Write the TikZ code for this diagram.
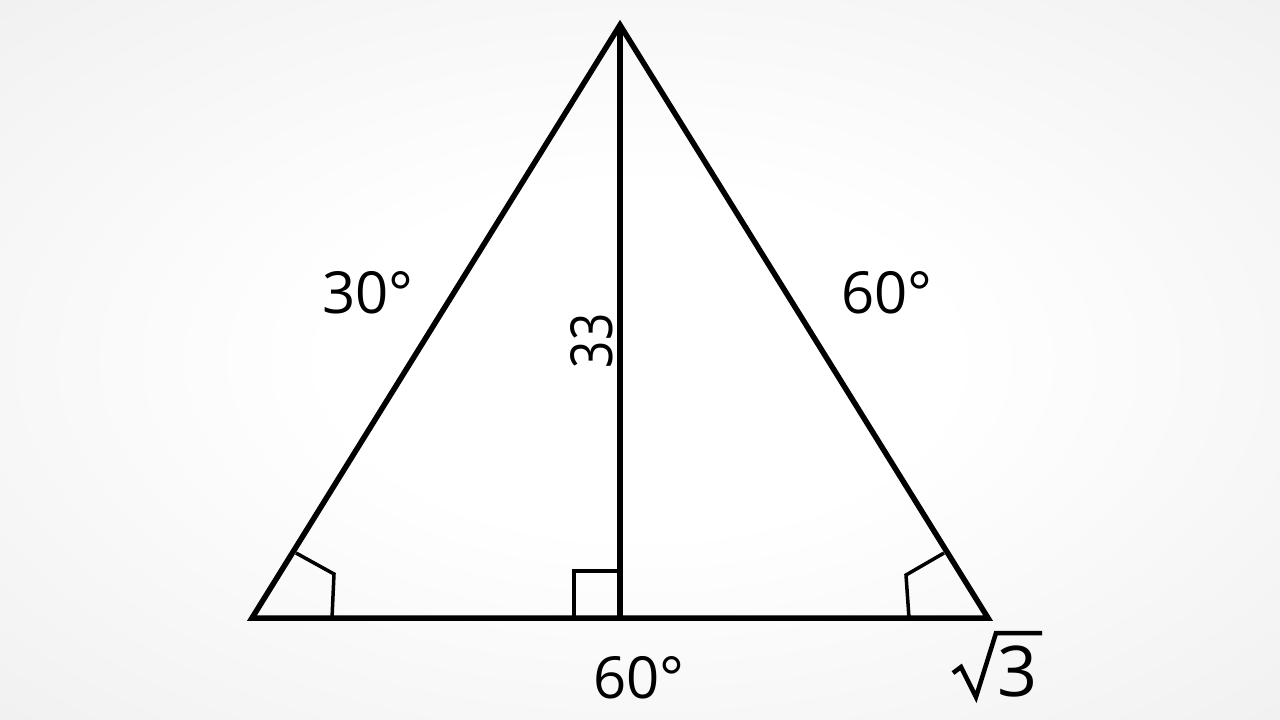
\documentclass[tikz,border=0pt]{standalone}
\usepackage{fontspec}
\setmainfont{Open Sans}
\usepackage{tikz}

\pgfdeclareradialshading{paper}{\pgfpoint{0bp}{0bp}}{color(0bp)=(white); color(12bp)=(white); color(50bp)=(black!9); color(71bp)=(black!13)}

\tikzset{
  side/.style={line width=5.5pt, line join=miter},
  anglemark/.style={line width=3.5pt, line join=miter},
  lbl/.style={font=\fontsize{58}{60}\selectfont, inner sep=0pt}
}

\begin{document}
\begin{tikzpicture}[x=1pt, y=-1pt]
\shade[shading=paper] (0,0) rectangle (1280,720);
\useasboundingbox (0,0) rectangle (1280,720);
% vertices
\coordinate (apex) at (620,25);
\coordinate (left) at (252,618);
\coordinate (right) at (988,618);
\coordinate (foot) at (620,618);
% triangle and altitude
\draw[side] (left) -- (apex) -- (right) -- cycle;
\draw[side] (apex) -- (foot);
% right angle marks
\draw[anglemark] (574,618) -- (574,571) -- (620,571);
\draw[anglemark] (296,553) -- (334,574) -- (332,618);
\draw[anglemark] (944,553) -- (906,575) -- (909,618);
% labels
\node[lbl] (aleft) at (368,293) {30°};
\node[lbl] (aright) at (887,293) {60°};
\node[lbl, rotate=90, xscale=0.82] (alt) at (592,341) {33};
\node[lbl] (abase) at (639,678) {60°};
\node[lbl, font=\fontsize{70}{72}\selectfont] (root) at (1018,671) {3};
\draw[line width=4.5pt, line join=miter] (953,673) -- (961,667) -- (976,697) -- (996,633) -- (1042,633);
\end{tikzpicture}
\end{document}
